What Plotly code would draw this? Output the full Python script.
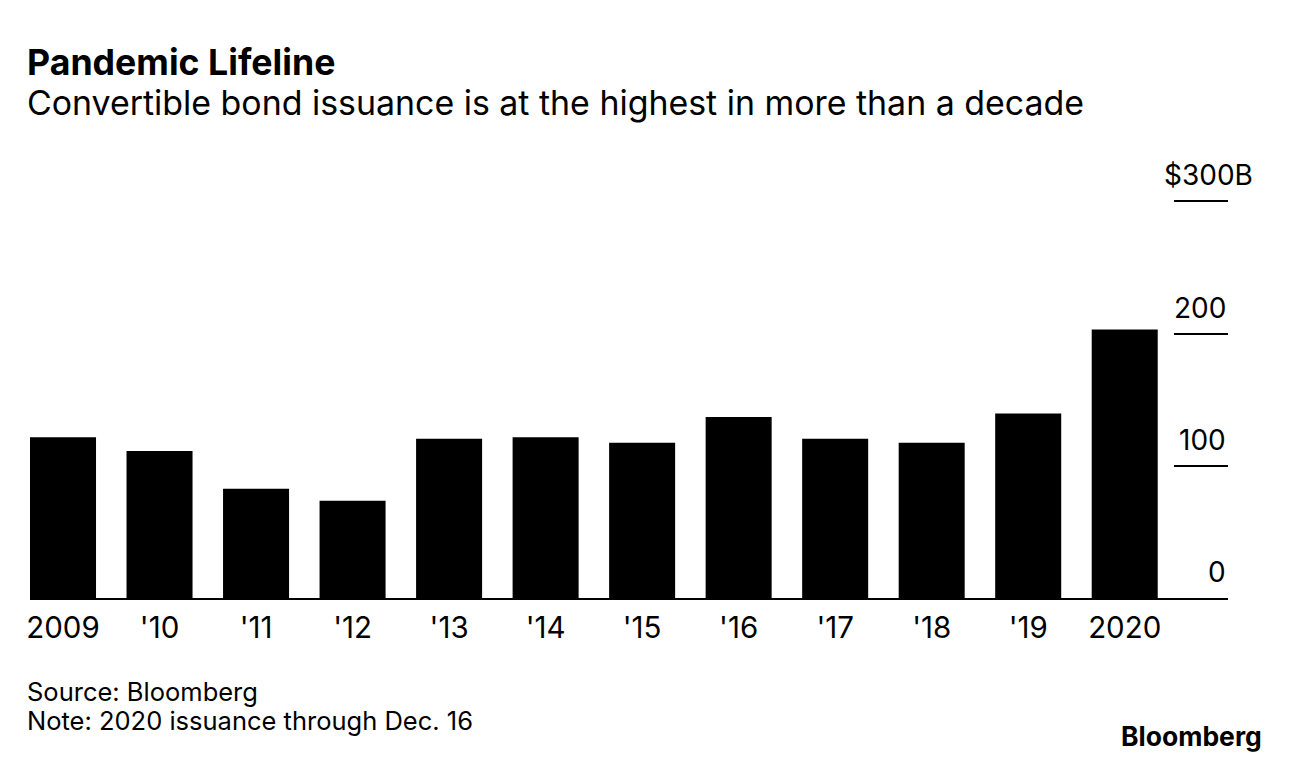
import plotly.graph_objects as go

# Convertible bond issuance, $B
years = ["2009", "'10", "'11", "'12", "'13", "'14", "'15", "'16", "'17", "'18", "'19", "2020"]
issuance = [121.6, 111.2, 82.6, 73.5, 120.4, 121.6, 117.4, 136.8, 120.4, 117.4, 139.6, 203.1]

y_tickvals = [0, 100, 200, 300]
y_ticktext = ["0", "100", "200", "$300B"]

title = "Pandemic Lifeline"
subtitle = "Convertible bond issuance is at the highest in more than a decade"
source = "Source: Bloomberg"
note = "Note: 2020 issuance through Dec. 16"

FONT = "Inter"
W, H = 1289, 762
OFF = 8  # the page body adds an 8px margin around the figure
M = dict(l=30 - OFF, r=W - (1228 - OFF), t=200.4 - OFF, b=H - (598.5 - OFF))


def px_to_paper(px, py):
    # pixel position on the page -> paper coordinates of the plot area
    pw = W - M["l"] - M["r"]
    ph = H - M["t"] - M["b"]
    return (px - OFF - M["l"]) / pw, (H - M["b"] - (py - OFF)) / ph


fig = go.Figure()

fig.add_trace(
    go.Bar(
        x=list(range(len(years))),
        y=issuance,
        marker=dict(color="black", line=dict(width=0)),
        hovertemplate="%{customdata}: $%{y:.0f}B<extra></extra>",
        customdata=years,
    )
)

fig.update_layout(
    width=W,
    height=H,
    margin=M,
    plot_bgcolor="white",
    paper_bgcolor="white",
    bargap=0.316,
    showlegend=False,
    font=dict(family=FONT, color="black"),
)

fig.update_xaxes(
    range=[-0.342, 12.07],
    tickvals=list(range(len(years))),
    ticktext=years,
    tickfont=dict(size=29.5, family=FONT, color="black"),
    ticklabelstandoff=3,
    showgrid=False,
    zeroline=False,
    showline=True,
    linecolor="black",
    linewidth=2,
    ticks="",
)

fig.update_yaxes(
    range=[0, 301],
    side="right",
    tickvals=y_tickvals,
    showticklabels=False,
    ticks="inside",
    ticklen=54,
    tickwidth=2,
    tickcolor="black",
    showgrid=False,
    zeroline=False,
    showline=False,
)

# Right-side value labels sitting on the short tick lines
for val, txt in zip(y_tickvals, y_ticktext):
    fig.add_annotation(
        x=1,
        xref="paper",
        y=val,
        yref="y",
        text=txt,
        showarrow=False,
        xanchor="right",
        yanchor="middle",
        yshift=26,
        xshift=27 if txt.endswith("B") else 0,
        font=dict(size=28, family=FONT, color="black"),
    )

# Header and footer text
for txt, px, py, size, bold in [
    (title, 25, 62, 35.7, True),
    (subtitle, 25, 103, 33.9, False),
    (source, 25, 692, 25.5, False),
    (note, 25, 721, 25.5, False),
]:
    x, y = px_to_paper(px, py)
    fig.add_annotation(
        x=x,
        y=y,
        xref="paper",
        yref="paper",
        text=f"<b>{txt}</b>" if bold else txt,
        showarrow=False,
        xanchor="left",
        yanchor="middle",
        font=dict(size=size, family=FONT, color="black"),
    )

x, y = px_to_paper(1264, 737)
fig.add_annotation(
    x=x,
    y=y,
    xref="paper",
    yref="paper",
    text="<b>Bloomberg</b>",
    showarrow=False,
    xanchor="right",
    yanchor="middle",
    font=dict(size=26.5, family=FONT, color="black"),
)

fig.write_html("out.html")
